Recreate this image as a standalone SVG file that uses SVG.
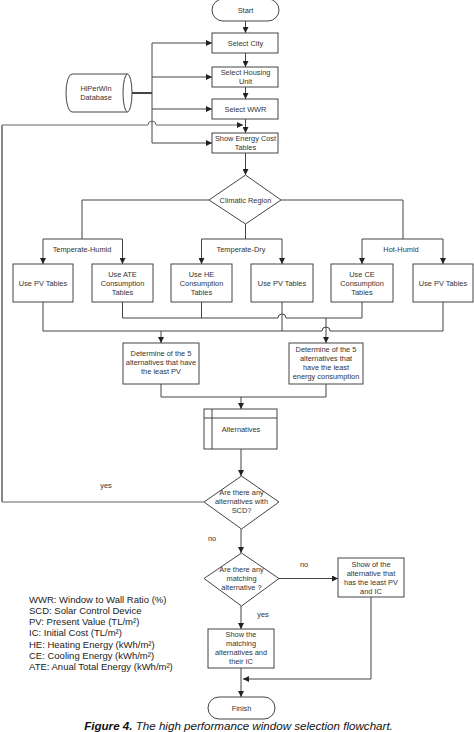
<svg xmlns="http://www.w3.org/2000/svg" width="474" height="732" viewBox="0 0 474 732">
<defs>
<marker id="ah" viewBox="0 0 6 6" refX="6" refY="3" markerWidth="6" markerHeight="6" markerUnits="userSpaceOnUse" orient="auto">
<path d="M0,0 L6,3 L0,6 Z" fill="#222"/>
</marker>
<style>
.n{fill:#fff;stroke:#444;stroke-width:1}
.t{font-family:"Liberation Sans",Arial,sans-serif;font-size:7.4px;fill:#333;text-anchor:middle}
.c{fill:none;stroke:#444;stroke-width:1}
.a{marker-end:url(#ah)}
.lg{font-family:"Liberation Sans",Arial,sans-serif;font-size:9.5px;fill:#222}
</style>
</defs>
<rect width="474" height="732" fill="#fff"/>

<g id="connectors">
<path class="c a" d="M245.5,21 V33"/>
<path class="c a" d="M245.5,53 V67"/>
<path class="c a" d="M245.5,87 V99"/>
<path class="c a" d="M245.5,119 V133"/>
<path class="c" d="M132,93 H152" style="stroke-width:2"/>
<path class="c" d="M152,43 V143"/>
<path class="c a" d="M152,43 H212"/>
<path class="c a" d="M152,77 H212"/>
<path class="c a" d="M152,109 H212"/>
<path class="c a" d="M152,143 H212"/>
<path class="c a" d="M204,502 H2 V125 H148 a4,4 0 0 1 8,0 H243" style="stroke:#666"/>
<path class="c" d="M2,125 V502" style="stroke:#888;stroke-width:2"/>
<path class="c a" d="M245.5,153 V175"/>
<path class="c" d="M209,200 H82 V239"/>
<path class="c a" d="M82,239 H43 V264"/>
<path class="c a" d="M82,239 H122.5 V264"/>
<path class="c" d="M245.5,224 V239"/>
<path class="c a" d="M245.5,239 H201.5 V264"/>
<path class="c a" d="M245.5,239 H282 V264"/>
<path class="c" d="M281,200 H403 V239"/>
<path class="c a" d="M403,239 H362 V264"/>
<path class="c a" d="M403,239 H443 V264"/>
<path class="c" d="M122.5,302 V318 H278 a4,4 0 0 1 8,0 H362 V302"/>
<path class="c" d="M201.5,302 V318"/>
<path class="c a" d="M326,318 V343"/>
<path class="c" d="M43,302 V331 H322 a4,4 0 0 1 8,0 H443 V302"/>
<path class="c" d="M282,302 V331"/>
<path class="c a" d="M161,331 V343"/>
<path class="c" d="M161,384 V397 H326 V384"/>
<path class="c a" d="M241,397 V409"/>
<path class="c a" d="M241,449 V476"/>
<path class="c a" d="M241,529 V553"/>
<path class="c a" d="M279,578.5 H338"/>
<path class="c a" d="M241,606 V629"/>
<path class="c a" d="M371,597 V679 H243"/>
<path class="c a" d="M241,668 V697"/>
<text class="t" x="106" y="488">yes</text>
<text class="t" x="212" y="541">no</text>
<text class="t" x="304" y="567">no</text>
<text class="t" x="263" y="617">yes</text>
<text class="t" x="82" y="252">Temperate-Humid</text>
<text class="t" x="241" y="252">Temperate-Dry</text>
<text class="t" x="401" y="252">Hot-Humid</text>
</g>

<g id="start">
<rect class="n" x="212" y="-1" width="67" height="22" rx="11"/>
<text class="t" x="245.5" y="13">Start</text>
</g>
<g id="select-city">
<rect class="n" x="212" y="33" width="66" height="20"/>
<text class="t" x="245.5" y="46">Select City</text>
</g>
<g id="select-housing">
<rect class="n" x="212" y="67" width="66" height="20"/>
<text class="t" x="245.5" y="75">Select Housing</text>
<text class="t" x="245.5" y="84">Unit</text>
</g>
<g id="select-wwr">
<rect class="n" x="212" y="99" width="66" height="20"/>
<text class="t" x="245.5" y="112">Select WWR</text>
</g>
<g id="show-energy">
<rect class="n" x="212" y="133" width="66" height="20"/>
<text class="t" x="245.5" y="141">Show Energy Cost</text>
<text class="t" x="245.5" y="150">Tables</text>
</g>
<g id="database">
<path class="n" d="M72,74 H127.5 A4.5,19 0 0 1 127.5,112 H72 A6,19 0 0 1 72,74 Z"/>
<path class="c" d="M127.5,74 A4.5,19 0 0 0 127.5,112"/>
<text class="t" x="96" y="91">HiPerWin</text>
<text class="t" x="96" y="100">Database</text>
</g>
<g id="climatic-region">
<polygon class="n" points="245.5,175 281,200 245.5,224 209,200"/>
<text class="t" x="245.5" y="202.5">Climatic Region</text>
</g>
<g id="use-pv-1">
<rect class="n" x="13" y="264" width="60" height="38"/>
<text class="t" x="43" y="285.5">Use PV Tables</text>
</g>
<g id="use-ate">
<rect class="n" x="92" y="264" width="61" height="38"/>
<text class="t" x="122.5" y="276.5">Use ATE</text>
<text class="t" x="122.5" y="285.5">Consumption</text>
<text class="t" x="122.5" y="294.5">Tables</text>
</g>
<g id="use-he">
<rect class="n" x="171" y="264" width="61" height="38"/>
<text class="t" x="201.5" y="276.5">Use HE</text>
<text class="t" x="201.5" y="285.5">Consumption</text>
<text class="t" x="201.5" y="294.5">Tables</text>
</g>
<g id="use-pv-2">
<rect class="n" x="251" y="264" width="62" height="38"/>
<text class="t" x="282" y="285.5">Use PV Tables</text>
</g>
<g id="use-ce">
<rect class="n" x="331" y="264" width="62" height="38"/>
<text class="t" x="362" y="276.5">Use CE</text>
<text class="t" x="362" y="285.5">Consumption</text>
<text class="t" x="362" y="294.5">Tables</text>
</g>
<g id="use-pv-3">
<rect class="n" x="413" y="264" width="60" height="38"/>
<text class="t" x="443" y="285.5">Use PV Tables</text>
</g>
<g id="determine-pv">
<rect class="n" x="123" y="343" width="76" height="41"/>
<text class="t" x="161" y="356">Determine of the 5</text>
<text class="t" x="161" y="365">alternatives that have</text>
<text class="t" x="161" y="374">the least PV</text>
</g>
<g id="determine-energy">
<rect class="n" x="289" y="343" width="74" height="41"/>
<text class="t" x="326" y="352">Determine of the 5</text>
<text class="t" x="326" y="361">alternatives that</text>
<text class="t" x="326" y="370">have the least</text>
<text class="t" x="326" y="379">energy consumption</text>
</g>
<g id="alternatives">
<rect class="n" x="204" y="409" width="73" height="40"/>
<path class="c" d="M204,418 H277 M212,409 V449"/>
<text class="t" x="241" y="432">Alternatives</text>
</g>
<g id="scd-decision">
<polygon class="n" points="241.5,476 279,502 241.5,529 204,502"/>
<text class="t" x="241.5" y="495">Are there any</text>
<text class="t" x="241.5" y="504">alternatives with</text>
<text class="t" x="241.5" y="513">SCD?</text>
</g>
<g id="matching-decision">
<polygon class="n" points="241.5,553 279,578.5 241.5,606 204,578.5"/>
<text class="t" x="241.5" y="572">Are there any</text>
<text class="t" x="241.5" y="581">matching</text>
<text class="t" x="241.5" y="590">alternative ?</text>
</g>
<g id="show-least">
<rect class="n" x="338" y="558" width="66" height="39"/>
<text class="t" x="371" y="567">Show of the</text>
<text class="t" x="371" y="576">alternative that</text>
<text class="t" x="371" y="585">has the least PV</text>
<text class="t" x="371" y="594">and IC</text>
</g>
<g id="show-matching">
<rect class="n" x="208" y="629" width="66" height="39"/>
<text class="t" x="241" y="637">Show the</text>
<text class="t" x="241" y="646">matching</text>
<text class="t" x="241" y="655">alternatives and</text>
<text class="t" x="241" y="664">their IC</text>
</g>
<g id="finish">
<rect class="n" x="208" y="697" width="67" height="22" rx="11"/>
<text class="t" x="241.5" y="710.5">Finish</text>
</g>

<g id="legend">
<text class="lg" x="29" y="602.5">WWR: Window to Wall Ratio (%)</text>
<text class="lg" x="29" y="613.8">SCD: Solar Control Device</text>
<text class="lg" x="29" y="625.1">PV: Present Value (TL/m²)</text>
<text class="lg" x="29" y="636.4">IC: Initial Cost (TL/m²)</text>
<text class="lg" x="29" y="647.7">HE: Heating Energy (kWh/m²)</text>
<text class="lg" x="29" y="659">CE: Cooling Energy (kWh/m²)</text>
<text class="lg" x="29" y="670.3">ATE: Anual Total Energy (kWh/m²)</text>
</g>
<text x="238.5" y="730" text-anchor="middle" style="font-family:'Liberation Sans',Arial,sans-serif;font-size:11.6px;font-style:italic;fill:#111"><tspan font-weight="bold">Figure 4.</tspan> The high performance window selection flowchart.</text>
</svg>
